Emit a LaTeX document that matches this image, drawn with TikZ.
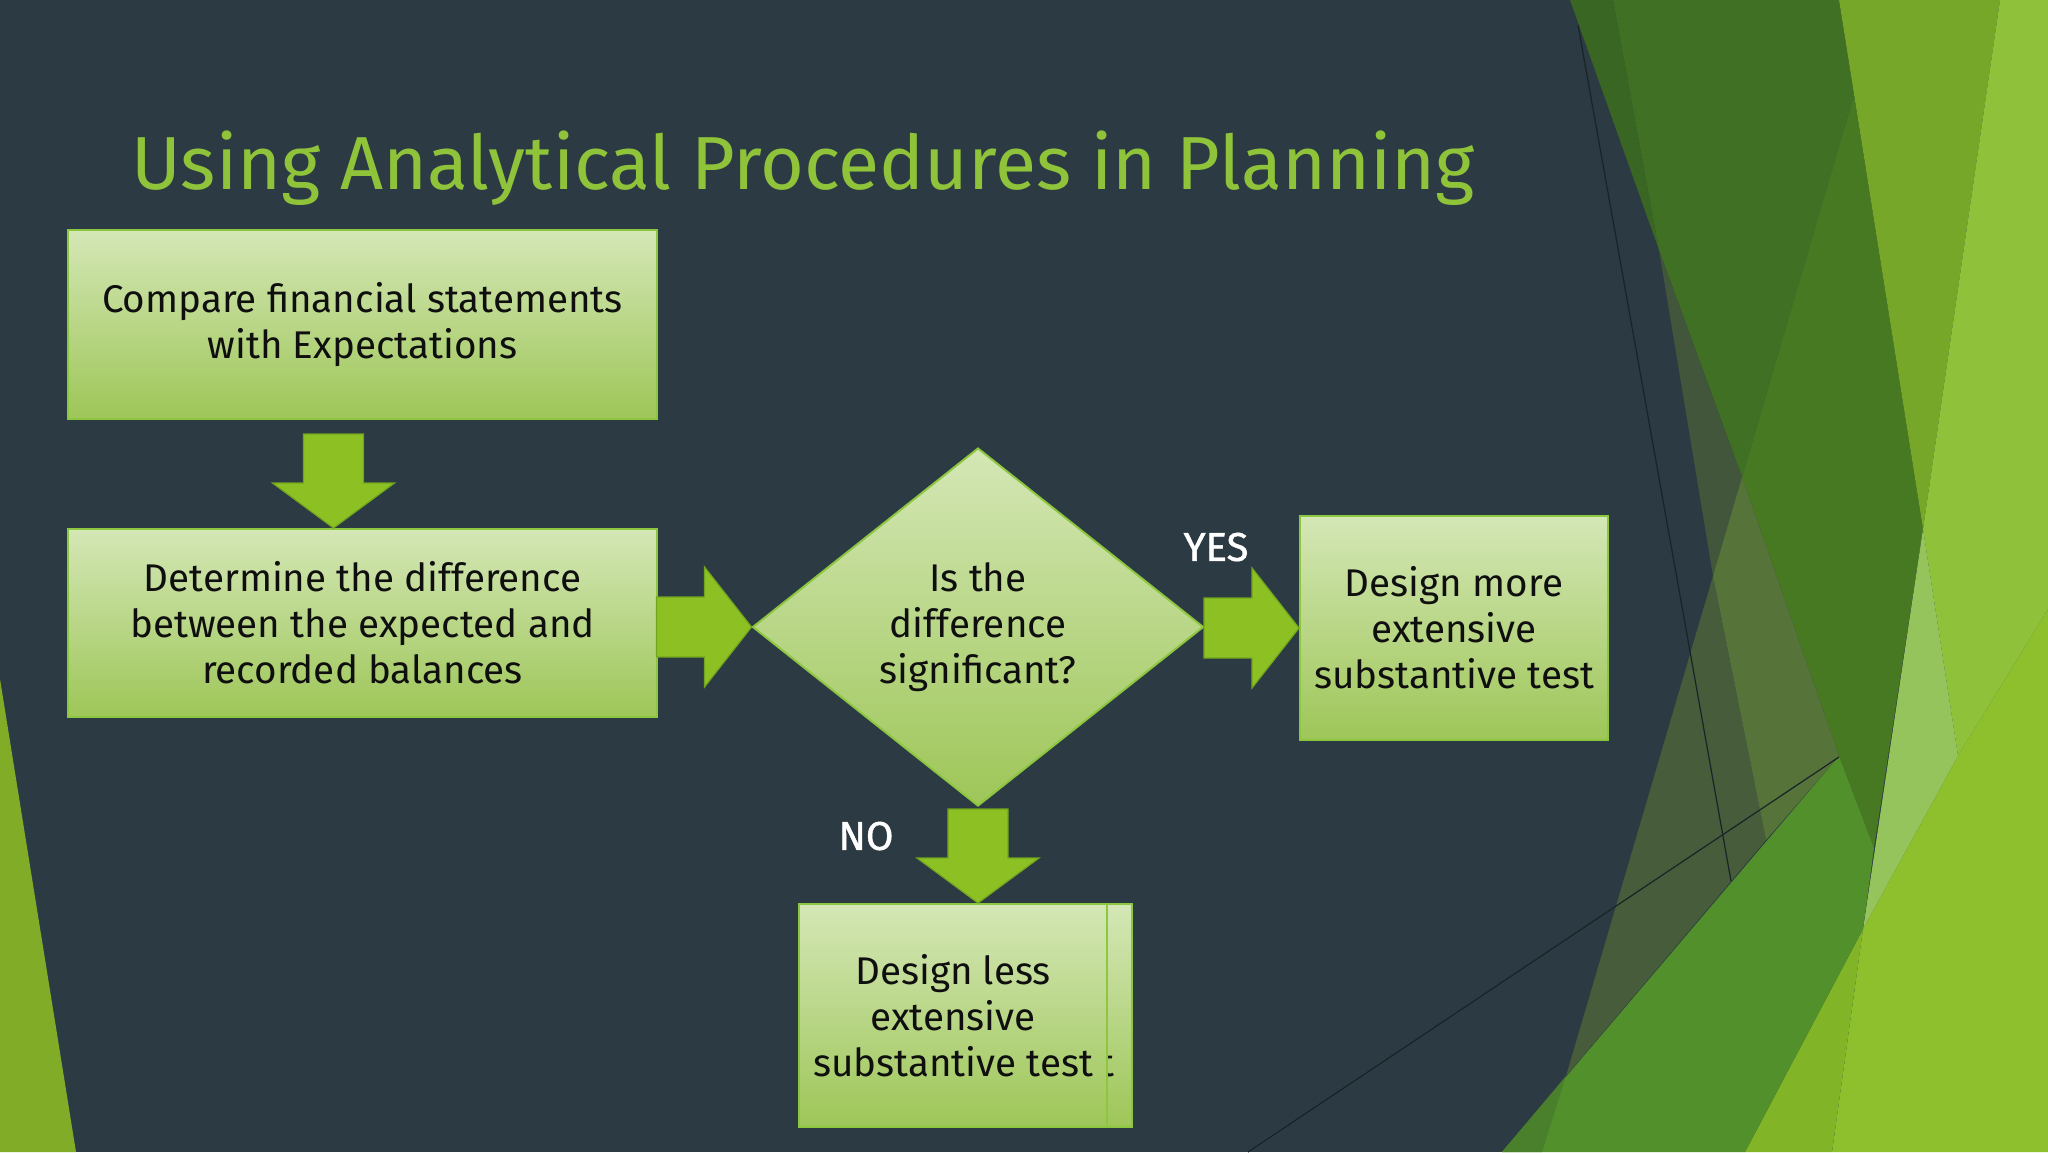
\documentclass[tikz,border=0pt]{standalone}
\usepackage{fontspec}
\setmainfont{Fira Sans}
\newfontfamily\answerfont[FakeBold=1.2]{Fira Sans}
\usetikzlibrary{shapes.geometric,calc}
\definecolor{bg}{RGB}{44,58,67}
\definecolor{titlegreen}{RGB}{143,195,58}
\definecolor{boxtop}{RGB}{212,231,182}
\definecolor{boxbot}{RGB}{158,198,88}
\definecolor{boxline}{RGB}{141,198,63}
\definecolor{arrowfill}{RGB}{141,193,35}
\definecolor{arrowline}{RGB}{112,165,30}
\definecolor{txt}{RGB}{15,15,15}
\definecolor{decoA}{RGB}{58,102,36}
\definecolor{decoB}{RGB}{64,112,36}
\definecolor{decoC}{RGB}{71,120,34}
\definecolor{decoM}{RGB}{118,167,41}
\definecolor{decoR}{RGB}{143,193,58}
\definecolor{decoPale}{RGB}{150,196,92}
\definecolor{decoP}{RGB}{142,192,46}
\definecolor{decoP1}{RGB}{130,180,40}
\definecolor{decoG}{RGB}{81,144,42}
\definecolor{decoGs}{RGB}{74,128,44}
\definecolor{grayA}{RGB}{65,86,58}
\definecolor{grayB}{RGB}{70,92,58}
\definecolor{grayC}{RGB}{86,115,58}
\definecolor{leftgreen}{RGB}{128,172,40}
\definecolor{thinline}{RGB}{25,35,40}
\tikzset{
  stepbox/.style={rectangle, draw=boxline, line width=1pt, top color=boxtop, bottom color=boxbot,
    text=txt, align=center, font=\fontsize{19.3}{23}\selectfont, inner sep=0pt},
  decision/.style={diamond, draw=boxline, line width=1pt, top color=boxtop, bottom color=boxbot, inner sep=0pt},
  bodytext/.style={text=txt, align=center, font=\fontsize{19.3}{23}\selectfont, inner sep=0pt},
  answer/.style={text=white, font=\answerfont\fontsize{20}{24}\selectfont, inner sep=0pt},
  blockarrow/.style={fill=arrowfill, draw=arrowline, line width=0.6pt, line join=miter},
  pics/darrow/.style={code={\draw[blockarrow] (-30,-94) -- (30,-94) -- (30,-45) -- (61,-45) -- (0,0) -- (-61,-45) -- (-30,-45) -- cycle;}},
  pics/rarrow/.style={code={\draw[blockarrow] (-95,-30) -- (-47,-30) -- (-47,-60) -- (0,0) -- (-47,60) -- (-47,30) -- (-95,30) -- cycle;}}
}
\begin{document}
\begin{tikzpicture}[x=0.5pt,y=-0.5pt]
\useasboundingbox (0,0) rectangle (2048,1152);
% background
\fill[bg] (0,0) rectangle (2048,1152);
% left decoration
\fill[leftgreen] (0,679) -- (76,1152) -- (0,1152) -- cycle;
% right decoration
\fill[decoA] (1570,0) -- (1613,0) -- (1659,250) -- cycle;
\fill[decoB] (1613,0) -- (1839,0) -- (1854,95) -- (1742,477) -- (1659,250) -- cycle;
\fill[decoC] (1854,95) -- (1923,529) -- (1874,848) -- (1839,756) -- (1742,477) -- cycle;
\fill[decoM] (1839,0) -- (2000,0) -- (1923,529) -- cycle;
\fill[decoR] (2000,0) -- (2048,0) -- (2048,609) -- (1958,756) -- (1923,529) -- cycle;
\fill[decoPale] (1923,529) -- (1958,756) -- (1863,929) -- cycle;
\fill[decoP] (1863,929) -- (1958,756) -- (2048,609) -- (2048,1152) -- (1832,1152) -- cycle;
\fill[decoP1] (1863,929) -- (1832,1152) -- (1745,1152) -- cycle;
\fill[decoG] (1502,1152) -- (1839,756) -- (1874,848) -- (1863,929) -- (1745,1152) -- cycle;
\fill[decoGs] (1502,1152) -- (1566,1076) -- (1542,1152) -- cycle;
\fill[grayA] (1659,250) -- (1742,477) -- (1713,576) -- cycle;
\fill[grayB] (1713,576) -- (1766,840) -- (1566,1076) -- cycle;
\fill[grayC] (1713,576) -- (1742,477) -- (1839,756) -- (1766,840) -- cycle;
\draw[thinline, line width=0.6pt] (1248,1152) -- (1839,757);
\draw[thinline, line width=0.6pt] (1578,25) -- (1731,881);
% title
\node[anchor=base west, text=titlegreen, font=\fontsize{37.6}{42}\selectfont, inner sep=0pt] (title) at (131,189) {Using Analytical Procedures in Planning};
% boxes
\node[stepbox, minimum width=294.5pt, minimum height=94.5pt] (b1) at (362.5,324.5) {Compare financial statements\\with Expectations};
\node[stepbox, minimum width=294.5pt, minimum height=94pt] (b2) at (362.5,623) {Determine the difference\\between the expected and\\recorded balances};
\node[decision, minimum width=225.5pt, minimum height=179pt] (dia) at (978,627) {};
\node[bodytext] (diatext) at (dia.center) {Is the\\difference\\significant?};
\node[stepbox, minimum width=154pt, minimum height=112pt] (b3) at (1454,628) {Design more\\extensive\\substantive test};
\node[stepbox, minimum width=166.5pt, minimum height=111.5pt] (b4back) at (965.5,1015.5) {};
\begin{scope}
  \clip (1107,904) rectangle (1132,1127);
  \node[bodytext, anchor=base west] (b4ghost) at (1100,1076) {t};
\end{scope}
\node[stepbox, minimum width=154pt, minimum height=111.5pt] (b4) at (953,1015.5) {Design less\\extensive\\substantive test};
% connectors
\pic at ($(b2.north)+(-29,0)$) {darrow};
\pic at (dia.west) {rarrow};
\pic at (b3.west) {rarrow};
\pic at (dia.south |- b4.north) {darrow};
% labels
\node[answer] (yes) at (1216,547) {YES};
\node[answer] (no) at (866,836) {NO};
\end{tikzpicture}
\end{document}
